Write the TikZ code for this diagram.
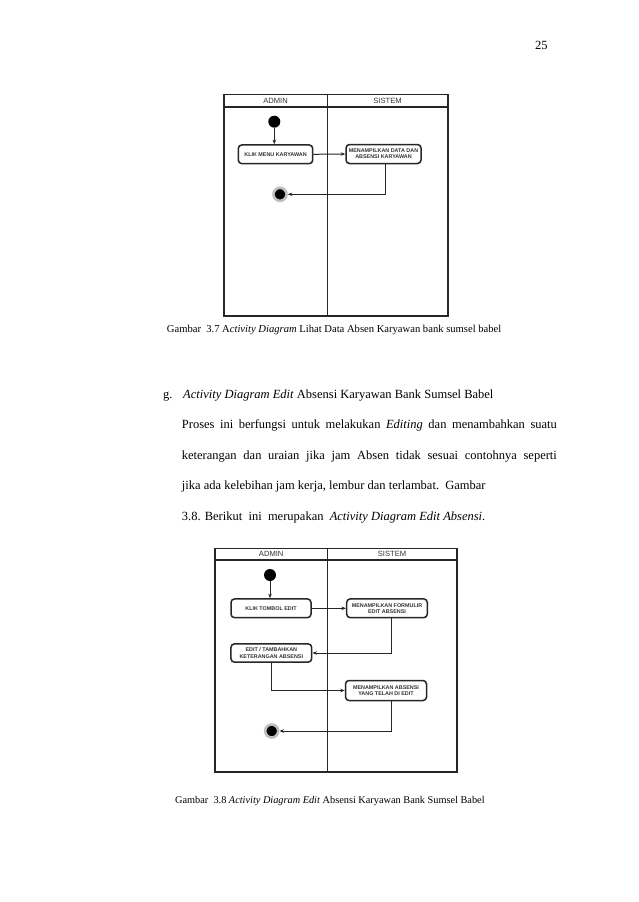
\documentclass[tikz,border=0pt]{standalone}
\usepackage{fontspec}
\setmainfont{Liberation Serif}
\newfontfamily\boxfont{Liberation Sans}
\usetikzlibrary{arrows.meta}
\tikzset{
  act/.style={draw=black!85,line width=1.5pt,rounded corners=3.5pt,fill=white,align=center,inner sep=0pt,
    font=\boxfont\bfseries\fontsize{5.4}{6.2}\selectfont,text=black!80},
  startdot/.style={circle,fill=black,minimum size=12pt,inner sep=0pt},
  enddot/.style={circle,fill=black,draw=black!25,line width=2.6pt,minimum size=13pt,inner sep=0pt},
  flow/.style={-{Stealth[length=4.5pt,width=3.5pt]},line width=1pt,black!85},
  lane/.style={draw=black!85,line width=1.6pt},
  hdr/.style={font=\boxfont\fontsize{7.6}{8.5}\selectfont,text=black!80},
  body/.style={anchor=base west,inner sep=0pt,font=\fontsize{12.5}{14}\selectfont},
  capt/.style={anchor=base west,inner sep=0pt}
}
\begin{document}
\begin{tikzpicture}[x=1pt,y=-1pt]
\useasboundingbox[fill=white] (0,0) rectangle (638,902);
\node[body] (pnum) at (535,49) {25};
\begin{scope}
\draw[lane] (224,94.3) rectangle (447.7,316);
\draw[lane] (224,106.7)--(447.7,106.7);\draw[lane] (327.3,94.3)--(327.3,316);
\node[hdr] (h1a) at (275.6,100.6) {ADMIN};
\node[hdr] (h1b) at (387.5,100.6) {SISTEM};
\node[startdot] (s1) at (274.3,121.7) {};
\node[act,minimum width=74.4pt,minimum height=18.7pt] (a1) at (275.5,154.3) {KLIK MENU KARYAWAN};
\node[act,minimum width=75pt,minimum height=19pt] (a2) at (383.5,154) {MENAMPILKAN DATA DAN\\ABSENSI KARYAWAN};
\node[enddot] (e1) at (280,194.3) {};
\draw[flow] (s1) -- (s1 |- a1.north);
\draw[flow] (a1.east) -- (a2.west);
\draw[flow] ([xshift=2pt]a2.south) |- (e1);
\end{scope}
\node[capt,font=\fontsize{10.6}{12}\selectfont] (cap1) at (166.7,332.5) {Gambar\ \ 3.7 A\textit{ctivity Diagram} Lihat Data Absen Karyawan bank sumsel babel};
\node[body] (l1g) at (163,398) {g.};
\node[body] (l1) at (183,398) {\textit{Activity Diagram Edit} Absensi Karyawan Bank Sumsel Babel};
\node[body] (l2) at (181.7,428.5) {\makebox[375pt][s]{Proses ini berfungsi untuk melakukan \textit{Editing} dan menambahkan suatu}};
\node[body] (l3) at (181.7,459) {\makebox[375pt][s]{keterangan dan uraian jika jam Absen tidak sesuai contohnya seperti}};
\node[body] (l4) at (181.7,489.5) {jika ada kelebihan jam kerja, lembur dan terlambat.\ \ Gambar};
\node[body] (l5) at (181.7,520) {3.8. Berikut\ \ ini\ \ merupakan\ \ \textit{Activity Diagram Edit Absensi}.};
\begin{scope}
\draw[lane] (215,548.3) rectangle (456.7,771.7);
\draw[lane] (215,560)--(456.7,560);\draw[lane] (327.3,548.3)--(327.3,771.7);
\node[hdr] (h2a) at (271.2,554.2) {ADMIN};
\node[hdr] (h2b) at (392,554.2) {SISTEM};
\node[startdot] (s2) at (270,575) {};
\node[act,minimum width=80pt,minimum height=18.7pt] (b1) at (271,608.3) {KLIK TOMBOL EDIT};
\node[act,minimum width=80.6pt,minimum height=18.7pt] (b2) at (387,608.3) {MENAMPILKAN FORMULIR\\EDIT ABSENSI};
\node[act,minimum width=80.7pt,minimum height=18.3pt] (b3) at (271.3,653) {EDIT / TAMBAHKAN\\KETERANGAN ABSENSI};
\node[act,minimum width=81pt,minimum height=20pt] (b4) at (386,690.5) {MENAMPILKAN ABSENSI\\YANG TELAH DI EDIT};
\node[enddot] (e2) at (271.7,731) {};
\draw[flow] (s2) -- (s2 |- b1.north);
\draw[flow] (b1.east) -- (b2.west);
\draw[flow] ([xshift=4.7pt]b2.south) |- (b3.east);
\draw[flow] (b3.south) |- (b4.west);
\draw[flow] ([xshift=5.7pt]b4.south) |- (e2);
\end{scope}
\node[capt,font=\fontsize{10.3}{12}\selectfont] (cap2) at (175,803) {Gambar\ \ 3.8 \textit{Activity Diagram Edit} Absensi Karyawan Bank Sumsel Babel};
\end{tikzpicture}
\end{document}
